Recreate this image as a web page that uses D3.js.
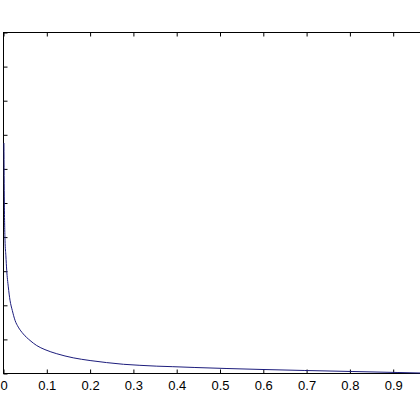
<!DOCTYPE html>
<html>
<head>
<meta charset="utf-8">
<script src="https://cdn.jsdelivr.net/npm/d3@7"></script>
<style>
  html, body { margin: 0; padding: 0; background: #fff; }
  svg { display: block; }
  .tick text { font-family: "Liberation Sans", Arial, sans-serif; font-size: 13px; fill: #000; }
</style>
</head>
<body>
<div id="chart"></div>
<script>
// values
var xVals = [0.001, 0.002, 0.0035, 0.0055, 0.0074, 0.0111, 0.015, 0.0203, 0.0266, 0.0342,
             0.0457, 0.0612, 0.0767, 0.0958, 0.123, 0.161, 0.2, 0.238, 0.277, 0.315,
             0.354, 0.391, 0.442, 0.514, 0.597, 0.696, 0.805, 0.911, 1.0];
var yVals = [6.76, 5.0, 3.91, 3.45, 3.03, 2.54, 2.15, 1.85, 1.56, 1.36,
             1.16, 0.97, 0.82, 0.7, 0.58, 0.46, 0.38, 0.32, 0.27, 0.24,
             0.215, 0.2, 0.176, 0.147, 0.118, 0.088, 0.059, 0.029, 0.005];
// the window cuts the plot just before x = 1
var xTicks = [0, 0.1, 0.2, 0.3, 0.4, 0.5, 0.6, 0.7, 0.8, 0.9];
var xTickLabels = ["0", "0.1", "0.2", "0.3", "0.4", "0.5", "0.6", "0.7", "0.8", "0.9"];
var yTicks = [0, 1, 2, 3, 4, 5, 6, 7, 8, 9, 10];

var width = 420, height = 420;
var tickLen = 4;

var x = d3.scaleLinear().domain([0, 1]).range([3.5, 436.5]);
var y = d3.scaleLinear().domain([0, 10]).range([373.5, 32.5]);

var svg = d3.select("#chart").append("svg")
  .attr("width", width)
  .attr("height", height);

// frame (right side falls outside the window like the cropped original)
svg.append("rect")
  .attr("x", x(0))
  .attr("y", y(10))
  .attr("width", x(1) - x(0))
  .attr("height", y(0) - y(10))
  .attr("fill", "#fff")
  .attr("stroke", "#000")
  .attr("stroke-width", 1);

// ticks point inward on every side
var axisB = svg.append("g")
  .attr("transform", "translate(0," + y(0) + ")")
  .call(d3.axisBottom(x).tickValues(xTicks).tickSize(-tickLen).tickPadding(7)
    .tickFormat(function(d, i){ return xTickLabels[i]; }));

var axisT = svg.append("g")
  .attr("transform", "translate(0," + y(10) + ")")
  .call(d3.axisTop(x).tickValues(xTicks).tickSize(-tickLen).tickFormat(""));

var axisL = svg.append("g")
  .attr("transform", "translate(" + x(0) + ",0)")
  .call(d3.axisLeft(y).tickValues(yTicks).tickSize(-tickLen).tickFormat(""));

[axisB, axisT, axisL].forEach(function(g){
  g.select(".domain").remove();
  g.selectAll(".tick line").attr("stroke", "#000").attr("stroke-width", 1);
});

var line = d3.line()
  .x(function(d, i){ return x(xVals[i]); })
  .y(function(d){ return y(d); })
  .curve(d3.curveMonotoneX);

svg.append("path")
  .datum(yVals)
  .attr("fill", "none")
  .attr("stroke", "#1c1c7c")
  .attr("stroke-width", 1)
  .attr("d", line);
</script>
</body>
</html>
